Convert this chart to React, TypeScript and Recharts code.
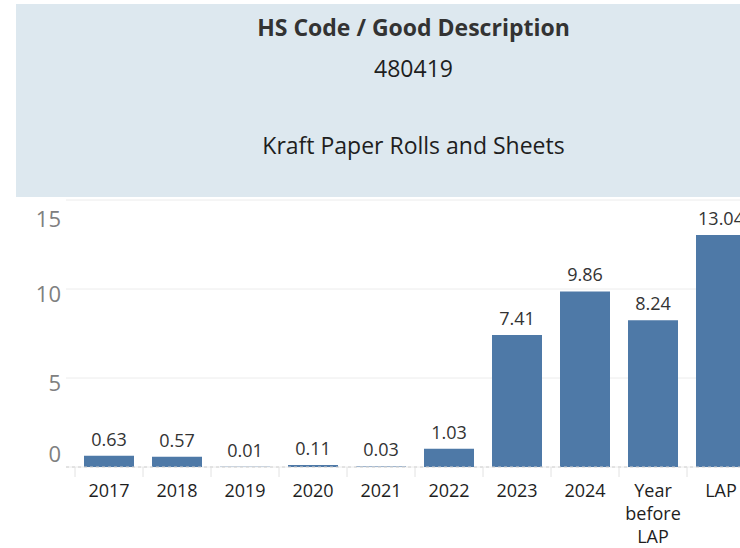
import { Bar, BarChart, CartesianGrid, LabelList, ReferenceLine, XAxis, YAxis } from "recharts";

const categories = ["2017", "2018", "2019", "2020", "2021", "2022", "2023", "2024", "Year before LAP", "LAP"];
const values = [0.63, 0.57, 0.01, 0.11, 0.03, 1.03, 7.41, 9.86, 8.24, 13.04];
const yTicks = [0, 5, 10, 15];
const headerTitle = "HS Code / Good Description";
const headerCode = "480419";
const headerDesc = "Kraft Paper Rolls and Sheets";

const data = categories.map((c, i) => ({ name: c, value: values[i] }));

const FONT = "'Open Sans', 'Noto Sans', sans-serif";

function YTick(props: any) {
  const { x, y, payload } = props;
  const v = payload.value;
  // tableau nudges the end labels inward
  const dy = v === 15 ? 18 : v === 0 ? -14 : 4;
  return (
    <text x={x} y={y + dy} textAnchor="end" dominantBaseline="central" fill="#808080" fontSize={22} fontFamily={FONT}>
      {v}
    </text>
  );
}

function XTick(props: any) {
  const { x, y, payload } = props;
  const words = String(payload.value).split(" ");
  const half = 34;
  return (
    <g>
      <line x1={x - half} x2={x - half} y1={y - 8} y2={y + 2} stroke="#e2e2e2" />
      <text x={x} y={y + 15} textAnchor="middle" fill="#1e1e1e" fontSize={18} fontFamily={FONT}>
        {words.map((w, i) => (
          <tspan key={i} x={x} dy={i === 0 ? 0 : 23} dominantBaseline="central">
            {w}
          </tspan>
        ))}
      </text>
    </g>
  );
}

const line = (top: number): React.CSSProperties => ({
  position: "absolute",
  left: 0,
  width: 795,
  top,
  lineHeight: "28px",
  textAlign: "center",
  fontSize: 23,
  color: "#1e1e1e",
});

export default function App() {
  return (
    <div style={{ position: "fixed", left: 0, top: 0, width: 740, height: 548, overflow: "hidden", background: "#fff" }}>
      <div
        style={{
          position: "absolute",
          left: 16,
          top: 4,
          width: 795,
          height: 193,
          background: "#dde8ef",
          fontFamily: FONT,
        }}
      >
        <div style={{ ...line(27 - 4 - 14), fontWeight: 700, color: "#333" }}>{headerTitle}</div>
        <div style={line(68 - 4 - 14)}>{headerCode}</div>
        <div style={line(145 - 4 - 14)}>{headerDesc}</div>
      </div>
      <div style={{ position: "absolute", left: 0, top: 0 }}>
        <BarChart width={770} height={548} data={data} margin={{ top: 200, right: 15, left: 0, bottom: 0 }} barSize={50}>
          <CartesianGrid vertical={false} stroke="#ececec" />
          <XAxis
            dataKey="name"
            interval={0}
            height={81}
            axisLine={false}
            tickLine={false}
            padding={{ left: 9, right: 0 }}
            tick={<XTick />}
          />
          <YAxis
            domain={[0, 15]}
            ticks={yTicks}
            width={66}
            axisLine={false}
            tickLine={false}
            tickSize={0}
            tickMargin={5}
            tick={<YTick />}
          />
          <ReferenceLine y={0} stroke="#d0d0d0" strokeDasharray="3 3" />
          <Bar dataKey="value" fill="#4e79a7" isAnimationActive={false}>
            <LabelList dataKey="value" position="top" offset={10} fill="#333" fontSize={18} fontFamily={FONT} />
          </Bar>
        </BarChart>
      </div>
    </div>
  );
}
